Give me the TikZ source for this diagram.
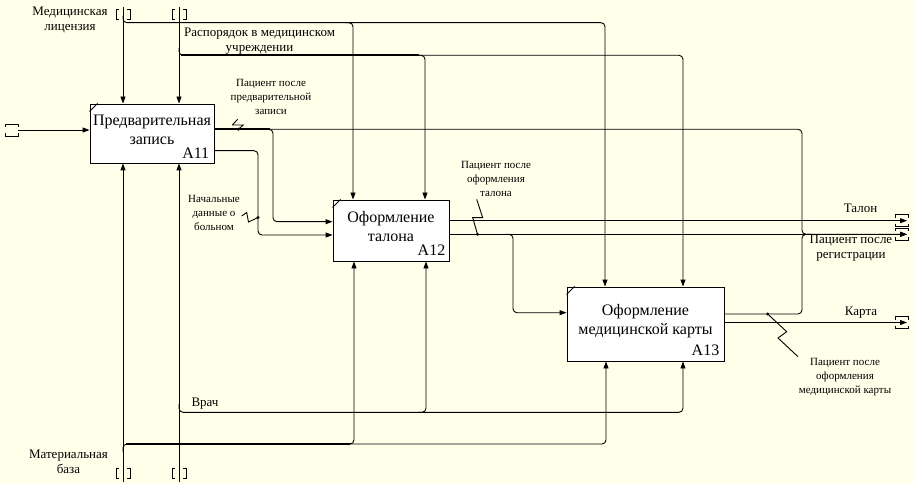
\documentclass[tikz,border=0pt]{standalone}
\usepackage{fontspec}
\setmainfont{Liberation Serif}
\usetikzlibrary{arrows.meta}
\definecolor{paper}{RGB}{255,255,234}
\tikzset{
  box idef/.style={draw, fill=white, line width=0.9pt, inner sep=0pt},
  wire/.style={line width=0.9pt},
  arr/.style={wire, -{Triangle[length=7pt,width=5pt]}},
  elbow/.style={rounded corners=4pt},
  fat/.style={line width=1.9pt},
  box text/.style={font=\fontsize{16}{19}\selectfont, align=center, inner sep=0pt},
  lab big/.style={font=\fontsize{13}{15.5}\selectfont, align=center, inner sep=0pt},
  lab small/.style={font=\fontsize{11}{14.2}\selectfont, align=center, inner sep=0pt},
}
% tunnel brackets round a vertical / a horizontal arrow end
\newcommand{\tunv}[1]{\draw[wire] (#1) ++(-4,-5) -- ++(-3,0) -- ++(0,10) -- ++(3,0) (#1) ++(4,-5) -- ++(3,0) -- ++(0,10) -- ++(-3,0);}
\newcommand{\tunh}[1]{\draw[wire] (#1) ++(-6.5,-3) -- ++(0,-3) -- ++(13,0) -- ++(0,3) (#1) ++(-6.5,3) -- ++(0,3) -- ++(13,0) -- ++(0,-3);}
\begin{document}
\begin{tikzpicture}[x=1pt, y=-1pt]
        \fill[paper] (0,0) rectangle (914,484);
        \useasboundingbox (0,0) rectangle (914,484);

        % Boxes
        \node[box idef, minimum width=124pt, minimum height=59pt] (a11) at (152,133.5) {};
        \draw[wire] (a11.north west) ++(0,8) -- ++(8,-8);
        \node[box text] (t11) at (152,130) {Предварительная\\запись};
        \node[box text, anchor=base east] (n11) at ([shift={(-5,-5)}]a11.south east) {A11};

        \node[box idef, minimum width=116pt, minimum height=61pt] (a12) at (391,230.5) {};
        \draw[wire] (a12.north west) ++(0,8) -- ++(8,-8);
        \node[box text] (t12) at (391,227) {Оформление\\талона};
        \node[box text, anchor=base east] (n12) at ([shift={(-4,-6)}]a12.south east) {A12};

        \node[box idef, minimum width=157pt, minimum height=74pt] (a13) at (645.5,324) {};
        \draw[wire] (a13.north west) ++(0,8) -- ++(8,-8);
        \node[box text] (t13) at (645.5,321) {Оформление\\медицинской карты};
        \node[box text, anchor=base east] (n13) at ([shift={(-5,-6)}]a13.south east) {A13};

        % Arrow ends at the border
        \coordinate (lic) at (123,7);
        \coordinate (ras) at (179,7);
        \coordinate (mat) at (123,482);
        \coordinate (vr) at (179,482);
        \coordinate (inp) at (18,130);
        \coordinate (tal) at (907,220.7);
        \coordinate (reg) at (907,234.3);
        \coordinate (kart) at (907,322.5);

        \tunv{123,14}
        \tunv{179,14}
        \tunv{123,473}
        \tunv{179,473}
        \tunh{12,130}
        \tunh{901.5,220.7}
        \tunh{901.5,234.3}
        \tunh{901.5,322.5}

        % Controls
        \draw[arr] (lic) -- (a11.north -| lic);
        \draw[arr, elbow] (123,16) -- (123,22.7) -- (605,22.7) -- (a13.north -| 605,0);
        \draw[arr, elbow] (345,22.7) -- (353,22.7) -- (a12.north -| 353,0);
        \draw[arr] (ras) -- (a11.north -| ras);
        \draw[arr, elbow] (179,48) -- (179,55.3) -- (683,55.3) -- (a13.north -| 683,0);
        \draw[arr, elbow] (417,55.3) -- (425,55.3) -- (a12.north -| 425,0);
        \draw[fat] (181,55.3) -- (419,55.3);

        % Mechanisms
        \draw[arr] (mat) -- (a11.south -| mat);
        \draw[arr, elbow] (123,452) -- (123,444) -- (606,444) -- (a13.south -| 606,0);
        \draw[arr, elbow] (346,444) -- (354,444) -- (a12.south -| 354,0);
        \draw[fat] (126,444) -- (350,444);
        \draw[arr] (vr) -- (a11.south -| vr);
        \draw[arr, elbow] (179,404) -- (179,412.3) -- (683,412.3) -- (a13.south -| 683,0);
        \draw[arr, elbow] (418,412.3) -- (426,412.3) -- (a12.south -| 426,0);

        % Input
        \draw[arr] (inp) -- (a11.west |- inp);

        % Outputs of A11
        \draw[arr, elbow] (a11.east |- 0,129.3) -- (802,129.3) -- (802,234.3) -- (reg);
        \draw[arr, elbow] (265,129.3) -- (273,129.3) -- (273,221.7) -- (a12.west |- 0,221.7);
        \draw[fat] (a11.east |- 0,129.3) -- (270,129.3);
        \draw[arr, elbow] (a11.east |- 0,150.7) -- (258,150.7) -- (258,235) -- (a12.west |- 0,235);

        % Outputs of A12
        \draw[arr] (a12.east |- tal) -- (tal);
        \draw[arr] (a12.east |- reg) -- (reg);
        \draw[arr, elbow] (505,234.3) -- (513,234.3) -- (513,312.7) -- (a13.west |- 0,312.7);

        % Outputs of A13
        \draw[wire, elbow] (a13.east |- 0,314) -- (802,314) -- (802,234.3) -- (812,234.3);
        \draw[arr] (a13.east |- kart) -- (kart);

        % Labels
        \node[lab big] (l1) at (70,20) {Медицинская\\лицензия};
        \node[lab big] (l2) at (259.5,41) {Распорядок в медицинском\\учреждении};
        \node[lab small] (l3) at (271,97) {Пациент после\\предварительной\\записи};
        \node[lab small] (l4) at (214,212.8) {Начальные\\данные о\\больном};
        \node[lab small] (l5) at (496,179) {Пациент после\\оформления\\талона};
        \node[lab big] (l6) at (860.5,208) {Талон};
        \node[lab big] (l7) at (851,248) {Пациент после\\регистрации};
        \node[lab big] (l8) at (861,313) {Карта};
        \node[lab small] (l9) at (845,377) {Пациент после\\оформления\\медицинской карты};
        \node[lab big] (l10) at (205,404) {Врач};
        \node[lab big] (l11) at (68.5,462) {Материальная\\база};

        % Squiggles
        \draw[wire] (232.3,125) -- (237.7,119.3) (232.3,125) -- (243.3,125) -- (238.3,129.3);
        \fill (238.3,129.3) circle (1.6);
        \draw[wire] (241.7,216) -- (246.7,212.5) -- (248.5,222) -- (258,217.5);
        \fill (258,217.5) circle (1.6);
        \draw[wire] (476.7,199.3) -- (482.7,217.7) -- (472.7,217.7) -- (477.5,234.3);
        \fill (477.5,234.3) circle (1.6);
        \draw[wire] (767.7,314) -- (786.7,331.7) -- (778,338) -- (798,356.7);
        \fill (767.7,314) circle (1.6);
\end{tikzpicture}
\end{document}
